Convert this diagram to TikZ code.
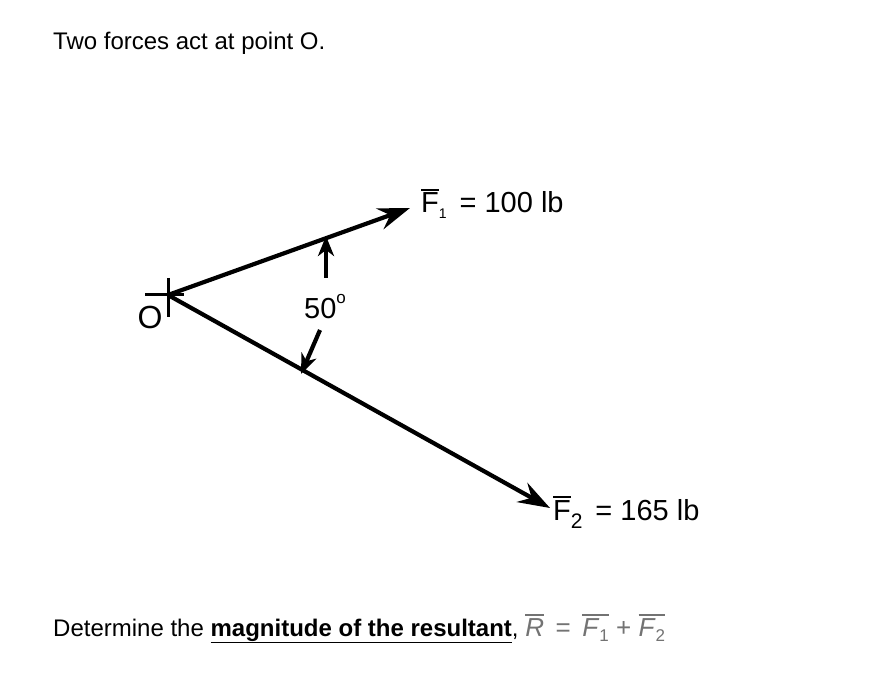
\documentclass[tikz,border=0pt]{standalone}
\usepackage{fontspec}
\setmainfont{Liberation Sans}
\usetikzlibrary{arrows.meta}
\newcommand{\ovl}[1]{\leavevmode\vbox{\hrule height 1.6pt\kern2.5pt\hbox{#1}}}
\begin{document}
\begin{tikzpicture}[x=1pt,y=-1pt,
  vec/.style={line width=4.2pt,-{Stealth[length=32pt,width=22pt,inset=11pt]}},
  ang/.style={line width=4.2pt,-{Stealth[length=20pt,width=16pt,inset=6pt]}},
  txt/.style={anchor=base west,inner sep=0pt,font=\fontsize{24}{28}\selectfont},
  lab/.style={anchor=base west,inner sep=0pt,font=\fontsize{29}{32}\selectfont}]
\useasboundingbox (0,0) rectangle (894,676);
\fill[white] (0,0) rectangle (894,676);
\node[txt] (title) at (53,50) {Two forces act at point O.};
\coordinate (O) at (168,295);
\coordinate (A) at (410,208);
\coordinate (B) at (550,508);
\draw[vec] (O) -- (A);
\draw[vec] (O) -- (B);
\coordinate (v1) at (168,278); \coordinate (v2) at (168,317);
\coordinate (h1) at (145,295); \coordinate (h2) at (184,295);
\draw[line width=3pt] (v1) -- (v2) (h1) -- (h2);
\node[font=\fontsize{32}{34}\selectfont,inner sep=0pt] (Olab) at (150,317) {O};
\coordinate (u0) at (326,278); \coordinate (u1) at (326,236);
\draw[ang] (u0) -- (u1);
\coordinate (d0) at (320,330); \coordinate (d1) at (301,374);
\draw[ang] (d0) -- (d1);
\node[lab] (ang) at (304,318) {50\raisebox{0.5em}{\fontsize{17}{18}\selectfont o}};
\node[lab] (f1) at (421,213) {\ovl{F}\raisebox{-0.2em}{\fontsize{14}{14}\selectfont 1}\, = 100 lb};
\node[lab] (f2) at (553,520) {\ovl{F}\raisebox{-0.3em}{\fontsize{21}{21}\selectfont 2}\, = 165 lb};
\node[txt] (det) at (53,636) {Determine the \underline{\textbf{magnitude of the resultant}}, \textcolor{black!55}{\fontsize{26}{28}\selectfont\ovl{\textit{R}} \,= \,\ovl{\textit{F}\raisebox{-0.2em}{\fontsize{17}{17}\selectfont 1}} + \ovl{\textit{F}\raisebox{-0.2em}{\fontsize{17}{17}\selectfont 2}}}};
\end{tikzpicture}
\end{document}
